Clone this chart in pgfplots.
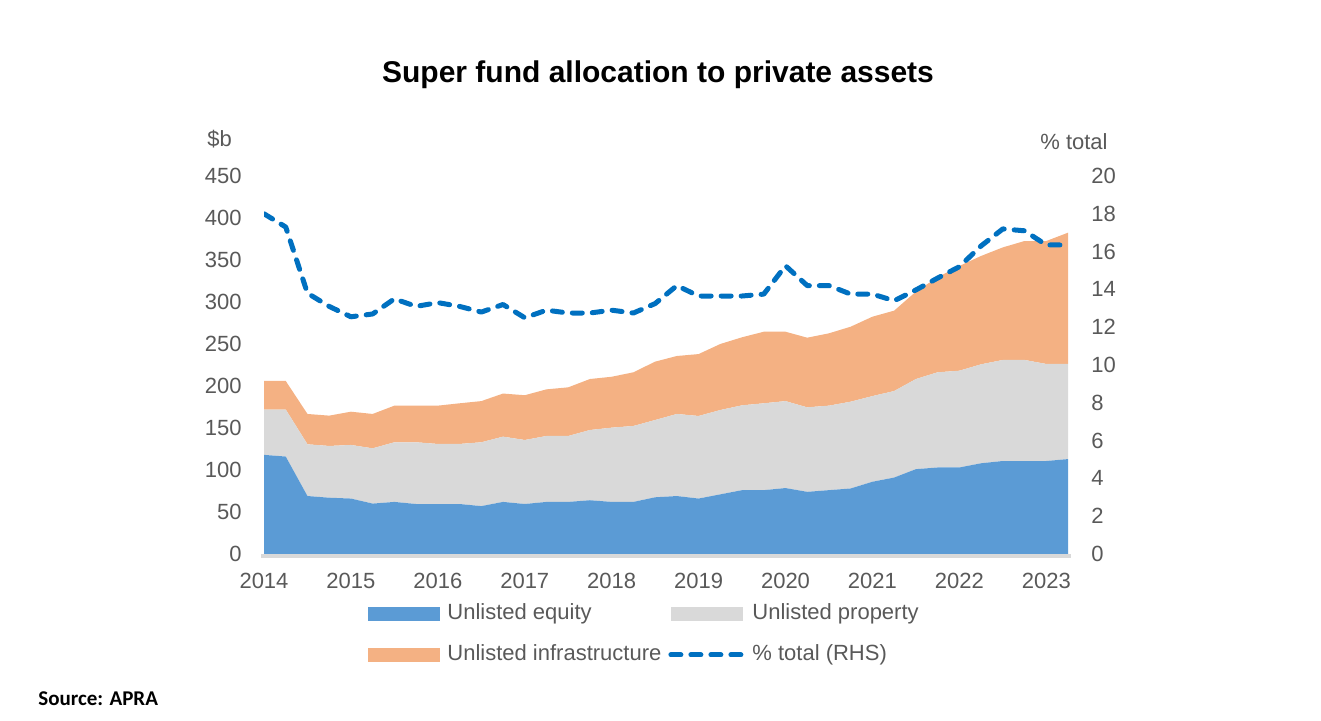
\documentclass[border=0pt]{standalone}
\usepackage{pgfplots}
\pgfplotsset{compat=1.18}
\usepackage{pgfplotstable}
\usepackage{fontspec}
\setmainfont{Liberation Sans}
\newfontfamily\srcfont{Carlito}
\definecolor{eqc}{HTML}{5B9BD5}
\definecolor{prc}{HTML}{D9D9D9}
\definecolor{inc}{HTML}{F4B183}
\definecolor{lnc}{HTML}{0070C0}
\definecolor{txt}{HTML}{595959}
\definecolor{axc}{HTML}{D9D9D9}
\pgfplotsset{
  swatch/.style={legend image code/.code={\fill[##1] (0pt,-3.5pt) rectangle (36pt,3.5pt);}},
  dline/.style={legend image code/.code={\draw[##1] (0pt,0pt) -- (36pt,0pt);}},
}
\pgfplotstableread{
q E P I L
0 118 54 34 18.0
1 116 56 34 17.3
2 69 61.6 36.1 13.8
3 67 61.6 36.1 13.1
4 66 63.8 39.6 12.55
5 60 65.8 40.9 12.7
6 62 71 43.6 13.5
7 59.5 73.5 43.6 13.1
8 59.5 71.5 45.6 13.3
9 59.5 71.5 48.4 13.1
10 57 76 49 12.8
11 62 77.7 51.3 13.2
12 59.5 76.2 53.3 12.5
13 62 78.5 55.5 12.9
14 62 78.5 57.9 12.75
15 64 83.6 60.7 12.75
16 62 88.4 60.6 12.9
17 62 90.4 63.9 12.75
18 67.5 92 69.5 13.25
19 69 97.7 69 14.2
20 66 98.3 73.7 13.65
21 71 100.4 78.6 13.65
22 76 101 81 13.65
23 76 103.4 85.2 13.75
24 78.5 103.5 82.6 15.25
25 74 100.6 82.9 14.2
26 76 100.6 86.1 14.2
27 78 103.3 89.3 13.75
28 86 102 94.5 13.75
29 91 103 95.7 13.4
30 101 107.3 104 13.97
31 103 113.3 113.1 14.6
32 103 115.2 124.7 15.2
33 108 117.8 129 16.3
34 110.7 120.3 134 17.2
35 110.7 120.3 141.6 17.1
36 110.7 115.5 146.4 16.35
37 113 113.2 156.3 16.35
}\data
\begin{document}
\begin{tikzpicture}
\path[use as bounding box] (0,0) rectangle (660.5pt,360.5pt);
\begin{axis}[
  at={(132pt,83.5pt)}, anchor=south west, scale only axis,
  width=402pt, height=189pt,
  xmin=0, xmax=37, ymin=0, ymax=450,
  axis x line*=bottom, axis y line*=left,
  y axis line style={draw=none},
  x axis line style={-, draw=axc, line width=2pt, yshift=-1pt, shorten <=-1.5pt, shorten >=-1.5pt},
  xtick={0,4,...,36}, xticklabels={2014,2015,2016,2017,2018,2019,2020,2021,2022,2023},
  ytick={0,50,...,450},
  major tick length=0pt,
  tick label style={font=\fontsize{11}{13}\selectfont, text=txt},
  yticklabel style={anchor=east, inner sep=0pt, xshift=-11pt},
  xticklabel style={anchor=north, inner sep=0pt, yshift=-9.5pt},
  /pgf/number format/assume math mode=true,
  stack plots=y,
]
\addplot[fill=eqc, draw=none] table[x=q,y=E]{\data} \closedcycle;
\addplot[fill=prc, draw=none] table[x=q,y=P]{\data} \closedcycle;
\addplot[fill=inc, draw=none] table[x=q,y=I]{\data} \closedcycle;
\end{axis}
\begin{axis}[
  at={(132pt,83.5pt)}, anchor=south west, scale only axis,
  width=402pt, height=189pt,
  xmin=0, xmax=37, ymin=0, ymax=20,
  axis x line=none, axis y line*=right,
  y axis line style={draw=none},
  ytick={0,2,...,20},
  major tick length=0pt,
  tick label style={font=\fontsize{11}{13}\selectfont, text=txt},
  yticklabel style={anchor=west, inner sep=0pt, xshift=11.5pt},
  /pgf/number format/assume math mode=true,
  legend columns=2,
  legend cell align=left,
  legend style={at={(0.1294,-0.1296)}, anchor=north west, draw=none, fill=none,
    inner sep=0pt, row sep=10pt, font=\fontsize{11}{13}\selectfont, text=txt,
    nodes={inner sep=0pt, text height=8pt, text depth=2.5pt},
    /tikz/every odd column/.append style={column sep=3.5pt},
    /tikz/every even column/.append style={column sep=3.5pt}},
]
\addlegendimage{swatch, fill=eqc, draw=none}
\addlegendentry{Unlisted equity}
\addlegendimage{swatch, fill=prc, draw=none}
\addlegendentry{Unlisted property}
\addlegendimage{swatch, fill=inc, draw=none}
\addlegendentry{Unlisted infrastructure}
\addplot[lnc, line width=2.5pt, dash pattern=on 5pt off 5pt, line cap=round, line join=round, dline] table[x=q,y=L]{\data};
\addlegendentry{\% total (RHS)}
\end{axis}
\node[anchor=base, font=\bfseries\fontsize{15}{17}\selectfont] at (329pt,319pt) {Super fund allocation to private assets};
\node[anchor=base west, inner sep=0pt, text=txt, font=\fontsize{11}{13}\selectfont] at (103.5pt,287pt) {\$b};
\node[anchor=base east, inner sep=0pt, text=txt, font=\fontsize{11}{13}\selectfont] at (554pt,285.5pt) {\% total};
\node[anchor=base west, inner sep=0pt, font=\srcfont\bfseries\fontsize{10.5}{12}\selectfont] at (19pt,7.5pt) {Source: APRA};
\end{tikzpicture}
\end{document}
